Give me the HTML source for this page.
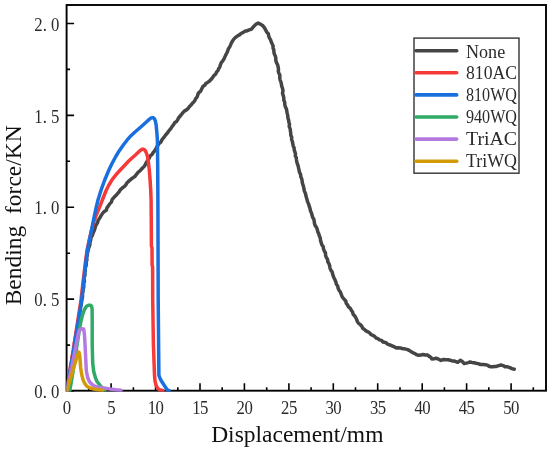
<!DOCTYPE html>
<html lang="en"><head><meta charset="utf-8"><title>Bending force vs displacement</title>
<style>html,body{margin:0;padding:0;background:#fff}body{width:550px;height:451px;overflow:hidden}svg{display:block}.tk{font-family:"Liberation Serif",serif;font-size:17.8px;fill:#2a2a2a}.lg{font-family:"Liberation Serif",serif;font-size:19.5px;fill:#2a2a2a}.ax{font-family:"Liberation Serif",serif;font-size:23.5px;fill:#111}.c{fill:none;stroke-width:3.5;stroke-linejoin:round;stroke-linecap:round}</style></head><body>
<svg width="550" height="451" viewBox="0 0 550 451">
<rect width="550" height="451" fill="#fff"/>
<defs><clipPath id="cp"><rect x="66.4" y="5.0" width="479.4" height="386.7"/></clipPath></defs>
<rect x="66.6" y="5.0" width="479.4" height="385.7" fill="none" stroke="#000" stroke-width="1.9"/>
<path d="M66.7 390.7v-7.5M111.1 390.7v-7.5M155.6 390.7v-7.5M200.0 390.7v-7.5M244.4 390.7v-7.5M288.9 390.7v-7.5M333.3 390.7v-7.5M377.7 390.7v-7.5M422.2 390.7v-7.5M466.6 390.7v-7.5M511.1 390.7v-7.5M88.9 390.7v-3.4M133.4 390.7v-3.4M177.8 390.7v-3.4M222.2 390.7v-3.4M266.7 390.7v-3.4M311.1 390.7v-3.4M355.5 390.7v-3.4M400.0 390.7v-3.4M444.4 390.7v-3.4M488.8 390.7v-3.4M533.3 390.7v-3.4M66.6 390.7h7.5M66.6 299.1h7.5M66.6 207.2h7.5M66.6 115.4h7.5M66.6 23.5h7.5M66.6 345.1h3.4M66.6 253.2h3.4M66.6 161.3h3.4M66.6 69.4h3.4" stroke="#000" stroke-width="1.6" fill="none"/>
<g clip-path="url(#cp)">
<polyline class="c" stroke="#454545" points="67.0,390.0 67.2,387.8 67.4,385.7 68.2,383.6 68.0,381.4 68.8,379.3 69.0,377.1 69.1,374.9 69.9,372.9 69.8,370.6 70.5,368.6 70.5,366.4 70.9,364.2 71.6,362.1 72.3,360.0 72.0,357.8 72.5,355.7 73.2,353.6 73.8,351.5 73.9,349.3 74.1,347.1 74.9,345.1 74.4,342.8 75.5,340.8 75.4,338.5 75.6,336.4 75.9,334.2 76.4,332.1 77.2,330.0 77.0,327.8 77.7,325.7 78.1,323.6 78.3,321.4 78.8,319.3 78.7,317.1 79.0,314.9 79.5,312.8 80.3,310.7 80.4,308.6 80.7,306.4 81.3,304.3 81.5,302.1 81.7,300.0 82.4,297.9 82.6,295.8 82.4,293.7 82.9,291.6 83.1,289.5 83.7,287.5 83.8,285.4 83.6,283.3 84.5,281.2 83.9,279.1 84.4,277.0 85.0,274.9 84.7,272.7 85.3,270.5 85.1,268.3 85.9,266.2 86.3,264.1 86.3,261.9 86.9,259.8 86.6,257.6 87.2,255.5 87.4,253.3 87.9,251.1 88.4,248.9 89.2,246.7 89.9,244.5 90.0,242.2 90.7,240.0 91.0,237.6 92.3,235.6 93.0,233.3 94.0,231.1 94.8,229.0 95.4,226.6 96.4,224.5 97.6,222.6 98.1,220.3 99.5,218.5 100.8,216.1 102.2,213.8 104.0,211.7 106.3,210.2 107.0,207.8 108.4,205.9 109.7,203.9 111.4,202.1 112.1,199.6 113.8,197.7 115.1,196.2 116.6,194.8 117.8,193.2 119.2,191.8 120.1,190.1 121.5,188.7 122.8,187.4 124.4,186.4 125.7,185.1 127.1,182.7 129.1,180.9 130.5,179.7 131.8,178.4 133.5,177.4 135.1,176.3 136.5,174.3 138.0,172.4 139.9,170.9 141.3,169.3 142.8,167.7 144.4,166.3 145.5,164.1 146.6,162.0 148.0,160.1 149.3,158.1 150.2,155.8 152.1,154.4 153.2,152.5 154.6,150.8 155.8,149.1 156.7,147.1 157.9,145.4 159.1,143.5 160.8,142.1 161.8,140.1 163.1,138.3 164.5,136.6 165.8,134.8 167.2,133.3 168.4,131.5 169.7,129.9 171.0,128.2 172.2,126.4 173.6,124.7 174.6,122.8 176.5,121.6 177.6,119.9 178.5,118.0 179.8,116.5 181.3,114.7 182.7,112.9 184.3,111.1 186.5,109.9 188.3,108.3 189.5,106.5 191.1,105.0 192.4,103.2 194.0,101.7 195.0,100.1 195.9,98.3 197.3,96.7 197.8,94.7 198.6,92.8 200.7,91.1 201.8,88.8 202.9,86.5 204.7,85.3 205.8,83.5 207.6,82.4 209.3,81.3 211.0,79.5 212.6,77.6 214.0,75.6 215.8,73.9 216.5,72.1 217.9,70.6 218.6,68.8 219.7,67.1 220.4,64.9 221.3,62.7 222.8,60.9 224.0,58.9 224.9,56.9 225.8,54.9 226.8,53.0 227.7,51.0 228.3,48.9 229.6,47.1 230.5,45.1 231.3,43.1 232.4,41.2 233.6,39.4 235.5,37.4 237.7,35.8 239.5,34.9 241.0,33.5 243.3,32.4 245.4,31.0 246.9,30.9 248.5,30.2 251.5,29.1 253.1,27.2 254.8,25.3 256.3,24.0 258.1,23.1 260.4,24.1 262.9,25.8 264.4,27.7 265.6,29.9 266.8,32.1 268.3,33.7 268.7,35.8 269.4,37.8 270.5,39.6 271.2,41.7 272.1,43.8 273.1,45.9 273.0,48.0 273.8,49.8 273.9,51.8 274.2,53.7 275.2,55.8 275.8,58.0 275.8,60.4 276.5,62.6 277.6,64.7 278.1,66.9 278.5,69.0 278.3,71.2 278.9,73.3 279.9,75.3 279.7,77.5 280.0,79.6 280.8,81.6 281.4,83.9 281.7,86.2 282.5,88.4 283.0,90.7 282.5,93.2 283.2,95.4 283.8,97.7 283.8,100.1 284.7,102.2 284.8,104.5 285.3,106.8 286.4,108.9 286.8,111.1 287.2,113.4 287.8,115.6 287.9,117.9 288.6,120.0 288.9,122.2 289.5,124.3 289.2,126.6 290.1,128.6 290.4,130.8 290.7,133.0 290.8,135.2 291.7,137.3 291.6,139.5 292.4,141.6 292.8,143.8 293.2,145.9 294.1,147.8 294.2,149.9 294.9,151.9 295.5,153.8 295.3,156.0 296.3,157.9 296.5,160.0 296.8,162.0 297.5,164.1 298.2,166.1 298.6,168.2 299.1,170.3 299.5,172.4 300.6,174.3 300.7,176.5 301.6,178.5 302.1,180.6 302.3,182.8 303.0,184.9 303.6,187.0 304.0,189.1 304.4,191.2 305.4,193.2 305.8,195.3 306.4,197.4 307.0,199.5 307.6,201.8 308.6,203.9 309.2,206.2 310.0,208.4 310.4,210.7 311.4,212.8 312.0,215.1 312.6,217.2 313.8,219.1 314.2,221.3 314.5,223.5 315.2,225.6 316.6,227.5 317.3,229.6 317.8,231.9 318.8,233.9 319.4,236.0 320.3,238.1 320.5,240.4 321.2,242.6 321.8,244.7 323.2,246.6 323.5,248.9 324.3,251.0 325.5,253.0 325.6,255.4 326.3,257.5 327.6,259.4 327.8,261.8 329.0,263.7 329.7,265.9 330.0,268.1 330.9,270.2 332.2,272.1 332.7,274.4 333.4,276.5 334.3,278.4 335.2,280.3 335.9,282.2 336.4,284.3 337.7,286.0 338.1,288.1 338.9,290.0 340.4,292.1 341.3,294.5 342.2,296.9 343.9,299.0 345.8,300.9 346.2,303.2 347.5,304.9 348.5,306.9 350.3,308.3 351.3,310.2 352.6,312.0 353.1,314.2 354.6,315.8 355.8,317.6 356.7,319.6 357.4,321.6 358.6,323.4 360.4,324.7 361.8,326.2 362.7,328.3 364.5,329.4 366.0,330.9 367.9,331.8 369.6,332.9 371.0,334.5 372.8,335.4 374.6,336.3 376.0,338.0 377.9,338.7 379.5,339.9 381.6,340.4 383.0,342.0 385.6,342.4 387.6,344.2 390.0,345.0 392.2,345.8 394.3,346.8 396.4,348.1 398.4,347.8 400.2,347.9 402.0,348.5 403.9,348.7 405.8,349.1 407.7,349.6 409.6,350.6 411.3,351.7 413.1,352.9 415.0,353.6 416.7,354.8 418.8,355.2 420.9,355.1 423.0,354.5 425.3,355.0 427.7,355.0 429.2,356.4 430.8,357.3 431.9,359.0 434.0,358.7 436.0,358.2 438.6,359.2 441.0,360.4 443.5,359.4 446.0,359.8 448.1,359.8 450.1,360.2 452.1,360.9 454.1,361.0 455.9,361.6 457.7,362.3 460.3,360.3 462.3,361.5 464.2,363.5 466.3,363.1 468.2,362.6 470.0,362.0 472.0,362.4 474.1,362.7 476.1,363.2 478.1,363.6 480.5,364.5 483.0,364.4 485.5,364.7 487.4,365.1 489.1,366.3 490.9,366.8 492.8,366.7 494.7,366.4 496.5,366.4 498.7,365.6 501.0,365.0 503.1,365.6 505.0,366.8 507.5,366.8 509.9,367.6 511.9,368.6 514.3,369.2"/>
<polyline class="c" stroke="#f63a3a" points="67,390 74,345 81,300 83.3,280 85.7,260 87.1,250 89.2,240 91.6,230 93.8,222 96.3,215 98.8,209 101.2,203 103.5,197 105.9,191 108.6,185.5 111.4,180.8 114.3,176.8 117.3,173.2 120.5,169.8 124.5,165.5 128.5,161.3 132,158 135.4,155 138.8,151.8 141,149.9 142.8,149 144.6,149.8 146,152 147.4,156 148.4,162 149.3,170 150.1,180 150.7,190 151.1,200 151.3,225 151.4,246 152,248 152.1,265 152.6,267 152.7,300 153.4,344.3 154.5,375.3 155,381 156,385.2 157.5,388 159.4,389.7 162.7,390.5"/>
<polyline class="c" stroke="#1a6fdf" points="67,390 74.5,345 81.7,300 83.9,280 86.2,260 87.5,250 89.5,240 91.5,230 93.5,220 95.6,210 98,200 101.1,190 104.7,180 108.9,170 112,163.5 115.5,157 119.3,150.7 123.3,145 127,140.2 131,135.7 135,132 138.8,128.7 142.8,125.2 146.6,121.8 149.2,119.4 151.2,117.9 152.8,117.6 154.3,118.5 155.4,121 156.2,125.5 156.9,133 157.4,141 157.7,166 157.9,200 158.2,300 158.9,375.3 160.5,379.5 162.7,383 165,386.5 167.1,389.7 169,390.5"/>
<polyline class="c" stroke="#2fab67" stroke-width="4" points="69.8,390.5 72,378 75,358 77.5,342 79.5,329 81,321 82.7,314.4 84.5,309.5 86.5,306.3 88.5,305.3 90.3,305.2 91.6,306.2 92.1,309 92.2,320 92.2,345 92.7,363 93.6,371 95.4,377.8 97,381.5 99,384 101.5,387 105,390"/>
<polyline class="c" stroke="#b57ae0" stroke-width="4.3" points="67,390.5 70,375 73.5,358 76.5,343 78.5,333 79.5,330.2 81.5,328.8 83.7,329 84.5,335 85.1,346 85.7,358 86.3,370.5 87.5,377 89.3,381.5 91.5,384 94.1,385.9 98,387.2 103.9,388 110,389 116,389.8 121,390.3"/>
<polyline class="c" stroke="#d29a06" stroke-width="4.5" points="67,390.5 70,380 73,370 76,360 78,354 79,352.2 79.8,356 80.7,368 81.8,375 83.2,380.2 84.8,383.5 86.8,386.3 90,388 94.1,389 98,389.7 102.7,390.3"/>
</g>
<g class="tk" text-anchor="middle" letter-spacing="-0.6">
<text transform="translate(66.7 413.8) scale(.94 1)">0</text>
<text transform="translate(111.1 413.8) scale(.94 1)">5</text>
<text transform="translate(155.6 413.8) scale(.94 1)">10</text>
<text transform="translate(200.0 413.8) scale(.94 1)">15</text>
<text transform="translate(244.4 413.8) scale(.94 1)">20</text>
<text transform="translate(288.9 413.8) scale(.94 1)">25</text>
<text transform="translate(333.3 413.8) scale(.94 1)">30</text>
<text transform="translate(377.7 413.8) scale(.94 1)">35</text>
<text transform="translate(422.2 413.8) scale(.94 1)">40</text>
<text transform="translate(466.6 413.8) scale(.94 1)">45</text>
<text transform="translate(511.1 413.8) scale(.94 1)">50</text>
</g>
<g class="tk" text-anchor="end">
<text transform="translate(59.4 398.2) scale(.94 1)">0. 0</text>
<text transform="translate(59.4 306.3) scale(.94 1)">0. 5</text>
<text transform="translate(59.4 214.4) scale(.94 1)">1. 0</text>
<text transform="translate(59.4 122.6) scale(.94 1)">1. 5</text>
<text transform="translate(59.4 30.7) scale(.94 1)">2. 0</text>
</g>
<text class="ax" x="297.3" y="441.8" text-anchor="middle">Displacement/mm</text>
<text class="ax" transform="translate(21 215.3) rotate(-90)" text-anchor="middle" xml:space="preserve">Bending  force/KN</text>
<rect x="414" y="38.1" width="105" height="135.1" fill="#fff" stroke="#333" stroke-width="1.4"/>
<path d="M416 50.7H456.7" stroke="#454545" stroke-width="3.6" stroke-linecap="round" fill="none"/>
<text class="lg" x="466" y="57.5" textLength="39.2" lengthAdjust="spacingAndGlyphs">None</text>
<path d="M416 72.8H456.7" stroke="#f63a3a" stroke-width="3.6" stroke-linecap="round" fill="none"/>
<text class="lg" x="466" y="79.4" textLength="51.0" lengthAdjust="spacingAndGlyphs">810AC</text>
<path d="M416 94.9H456.7" stroke="#1a6fdf" stroke-width="3.6" stroke-linecap="round" fill="none"/>
<text class="lg" x="466" y="101.3" textLength="51.0" lengthAdjust="spacingAndGlyphs">810WQ</text>
<path d="M416 117.0H456.7" stroke="#2fab67" stroke-width="3.6" stroke-linecap="round" fill="none"/>
<text class="lg" x="466" y="123.2" textLength="51.0" lengthAdjust="spacingAndGlyphs">940WQ</text>
<path d="M416 139.1H456.7" stroke="#b57ae0" stroke-width="3.6" stroke-linecap="round" fill="none"/>
<text class="lg" x="466" y="145.1" textLength="51.0" lengthAdjust="spacingAndGlyphs">TriAC</text>
<path d="M416 161.2H456.7" stroke="#d29a06" stroke-width="3.6" stroke-linecap="round" fill="none"/>
<text class="lg" x="466" y="167.0" textLength="51.0" lengthAdjust="spacingAndGlyphs">TriWQ</text>
</svg></body></html>
